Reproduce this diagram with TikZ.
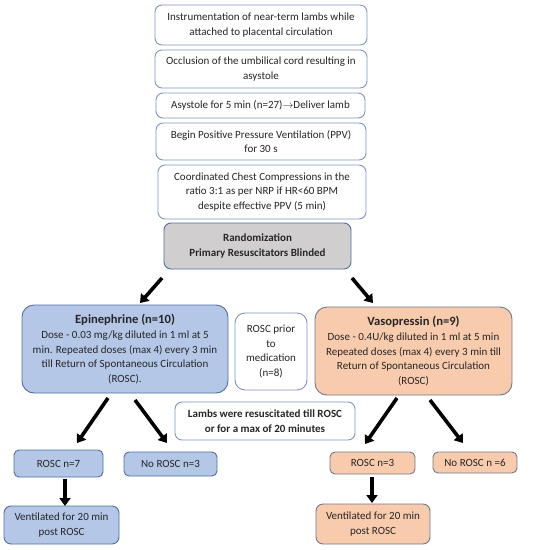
\documentclass[tikz,border=0pt]{standalone}
\usepackage{fontspec}
\setmainfont{Carlito}
\usetikzlibrary{arrows.meta}
\definecolor{bordA}{HTML}{7F95BF}
\definecolor{bordB}{HTML}{4F6FA3}
\definecolor{blueF}{HTML}{B4C7E7}
\definecolor{orF}{HTML}{F8CBAD}
\definecolor{bordO}{HTML}{6F7890}
\definecolor{grayF}{HTML}{D0CECE}
\tikzset{
  basebox/.style={draw=bordA, line width=0.9pt, rounded corners=7pt, inner sep=1pt, align=center,
    font=\fontsize{11}{14.5}\selectfont, text=black!85},
  whitebox/.style={basebox, fill=white},
  graybox/.style={basebox, fill=grayF, draw=bordB, font=\fontsize{11}{15}\selectfont\bfseries},
  bluebox/.style={basebox, fill=blueF, draw=bordB},
  orbox/.style={basebox, fill=orF, draw=bordO},
  bigarrow/.style={line width=3.6pt, -{Triangle[width=11pt,length=8pt]}, black},
  sz/.style 2 args={minimum width=#1pt, minimum height=#2pt},
}
\begin{document}
\begin{tikzpicture}[x=1pt,y=-1pt]
\useasboundingbox (0,0) rectangle (536,550);
\node[whitebox, sz={212}{40}] (b1) at (261,25) {Instrumentation of near-term lambs while\\attached to placental circulation};
\node[whitebox, sz={212}{38}] (b2) at (261,69) {Occlusion of the umbilical cord resulting in\\asystole};
\node[whitebox, sz={209}{25}] (b3) at (260.5,105.5) {Asystole for 5 min (n=27)$\rightarrow$Deliver lamb};
\node[whitebox, sz={210}{37}] (b4) at (261,141.5) {Begin Positive Pressure Ventilation (PPV)\\for 30 s};
\node[whitebox, sz={208}{54}] (b5) at (262,192) {Coordinated Chest Compressions in the\\ratio 3:1 as per NRP if HR<60 BPM\\despite effective PPV (5 min)};
\node[graybox, sz={187}{46}] (rand) at (257.5,246) {Randomization\\Primary Resuscitators Blinded};

\node[bluebox, sz={206}{88}, rounded corners=12pt] (epi) at (125,349) {{\fontsize{12.6}{16}\selectfont\bfseries Epinephrine (n=10)}\\[1pt]Dose - 0.03 mg/kg diluted in 1 ml at 5\\min. Repeated doses (max 4) every 3 min\\till Return of Spontaneous Circulation\\(ROSC).};
\node[whitebox, sz={72}{77}, rounded corners=10pt] (prior) at (271,351.5) {ROSC prior\\to\\medication\\(n=8)};
\node[orbox, sz={197}{88}, rounded corners=12pt] (vaso) at (413.5,351) {{\fontsize{12.6}{16}\selectfont\bfseries Vasopressin (n=9)}\\[1pt]Dose - 0.4U/kg diluted in 1 ml at 5 min\\Repeated doses (max 4) every 3 min till\\Return of Spontaneous Circulation\\(ROSC)};
\node[whitebox, sz={180}{38}, font=\fontsize{11}{15}\selectfont\bfseries] (lambs) at (265,421) {Lambs were resuscitated till ROSC\\or for a max of 20 minutes};

\node[bluebox, sz={89}{27}, rounded corners=5pt] (r7) at (58.5,463.5) {ROSC n=7};
\node[bluebox, sz={93}{24}, rounded corners=5pt] (nr3) at (170.5,464) {No ROSC n=3};
\node[orbox, sz={85}{22}, rounded corners=5pt] (r3) at (372.5,463) {ROSC n=3};
\node[orbox, sz={84}{21}, rounded corners=5pt] (nr6) at (475,462.5) {No ROSC n =6};
\node[bluebox, sz={115}{38}, rounded corners=7pt] (vl) at (61.5,525) {Ventilated for 20 min\\post ROSC};
\node[orbox, sz={114}{40}, rounded corners=7pt] (vr) at (373,524) {Ventilated for 20 min\\post ROSC};

\coordinate (a1s) at (162,278); \coordinate (a1e) at (140,303);
\coordinate (a2s) at (352,278); \coordinate (a2e) at (373,303);
\coordinate (a3s) at (108,398); \coordinate (a3e) at (77,443);
\coordinate (a4s) at (135,400); \coordinate (a4e) at (167,443);
\coordinate (a5s) at (397,398); \coordinate (a5e) at (365,444);
\coordinate (a6s) at (430,400); \coordinate (a6e) at (463,443);
\coordinate (a7s) at (65,479); \coordinate (a7e) at (65,506);
\coordinate (a8s) at (372,477); \coordinate (a8e) at (372,503);
\foreach \i in {1,...,8} \draw[bigarrow] (a\i s) -- (a\i e);
\end{tikzpicture}
\end{document}
